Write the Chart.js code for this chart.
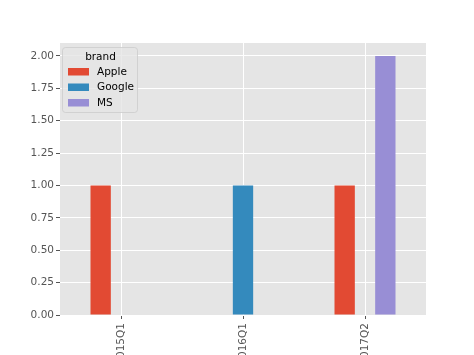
<!DOCTYPE html>
<html><head><meta charset="utf-8">
<script src="https://cdn.jsdelivr.net/npm/chart.js@4/dist/chart.umd.min.js"></script>
<style>html,body{margin:0;padding:0;background:#fff;overflow:hidden}#wrap{width:474px;height:355px;position:relative}</style>
</head><body><div id="wrap"><canvas id="c" width="474" height="355"></canvas></div>
<script>
const categories = ['2015Q1', '2016Q1', '2017Q2'];
const brands = ['Apple', 'Google', 'MS'];
const appleValues = [1, null, 1];
const googleValues = [null, 1, null];
const msValues = [null, null, 2];
const yTicks = [0, 0.25, 0.5, 0.75, 1.0, 1.25, 1.5, 1.75, 2.0];
const legendTitle = 'brand';
const colors = ['#E24A33', '#348ABD', '#988ED5'];

const FONT = 'DejaVu Sans';

const bgPlugin = {
  id: 'bg',
  beforeDraw(chart) {
    const {ctx, chartArea: a} = chart;
    ctx.save();
    ctx.fillStyle = '#E5E5E5';
    ctx.fillRect(a.left, a.top, a.right - a.left, a.bottom - a.top);
    ctx.restore();
  }
};

const legendPlugin = {
  id: 'innerLegend',
  afterDraw(chart) {
    const {ctx, chartArea: a} = chart;
    const x = a.left + 2, y = a.top + 4, w = 75, h = 65;
    ctx.save();
    ctx.beginPath();
    if (ctx.roundRect) ctx.roundRect(x + 0.5, y + 0.5, w, h, 3); else ctx.rect(x + 0.5, y + 0.5, w, h);
    ctx.fillStyle = 'rgba(229,229,229,0.8)';
    ctx.fill();
    ctx.strokeStyle = 'rgba(204,204,204,0.8)';
    ctx.lineWidth = 1;
    ctx.stroke();
    ctx.font = '10.5px "' + FONT + '"';
    ctx.fillStyle = '#000';
    ctx.textBaseline = 'middle';
    ctx.textAlign = 'center';
    ctx.fillText(legendTitle, x + w / 2 + 1, y + 10);
    ctx.textAlign = 'left';
    chart.data.datasets.forEach((ds, i) => {
      const cy = y + 25 + i * 15.5;
      ctx.fillStyle = ds.backgroundColor;
      ctx.fillRect(x + 6, cy - 4, 21, 7.5);
      ctx.fillStyle = '#000';
      ctx.fillText(ds.label, x + 35, cy);
    });
    ctx.restore();
  }
};

const tickFont = {family: FONT, size: 10.5};

new Chart(document.getElementById('c'), {
  type: 'bar',
  data: {
    labels: categories,
    datasets: [
      {label: brands[0], data: appleValues, backgroundColor: colors[0]},
      {label: brands[1], data: googleValues, backgroundColor: colors[1]},
      {label: brands[2], data: msValues, backgroundColor: colors[2]}
    ]
  },
  options: {
    responsive: false,
    animation: false,
    devicePixelRatio: 1,
    layout: {padding: {top: 43, right: 48, left: 0, bottom: 0}},
    datasets: {bar: {categoryPercentage: 0.5, barPercentage: 1.0}},
    plugins: {legend: {display: false}, tooltip: {enabled: false}},
    scales: {
      x: {
        offset: true,
        grid: {offset: false, color: '#FFFFFF', lineWidth: 1, tickColor: '#555555', tickLength: 4, drawTicks: true},
        border: {display: false},
        ticks: {minRotation: 90, maxRotation: 90, padding: 4, color: '#555555', font: tickFont},
        afterFit(s) { s.height = 40; }
      },
      y: {
        min: 0,
        max: 2.1,
        grid: {color: '#FFFFFF', lineWidth: 1, tickColor: '#555555', tickLength: 4, drawTicks: true},
        border: {display: false},
        afterBuildTicks(s) { s.ticks = yTicks.map(v => ({value: v})); },
        ticks: {padding: 2, color: '#555555', font: tickFont, callback: v => Number(v).toFixed(2)},
        afterFit(s) { s.width = 60; }
      }
    }
  },
  plugins: [bgPlugin, legendPlugin]
});
</script>
</body></html>
